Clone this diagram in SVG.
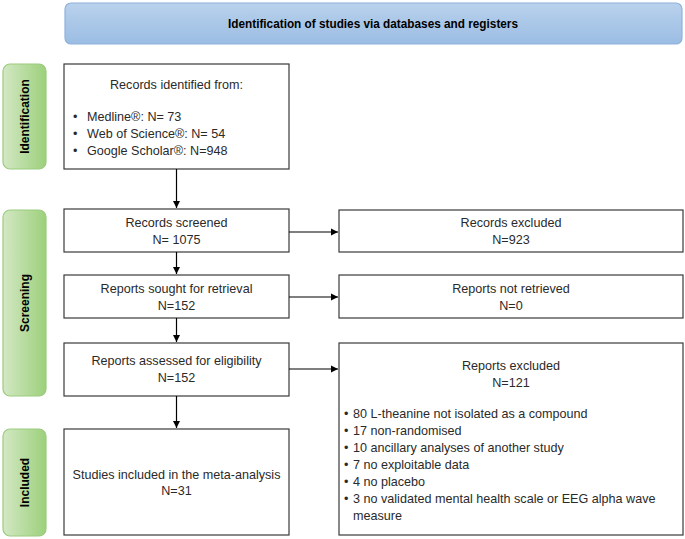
<svg xmlns="http://www.w3.org/2000/svg" width="685" height="539" viewBox="0 0 685 539">
<defs>
<linearGradient id="gBlue" x1="0" y1="0" x2="0" y2="1">
<stop offset="0" stop-color="#b9d1ec"/>
<stop offset="1" stop-color="#9bbde3"/>
</linearGradient>
<linearGradient id="gGreen" x1="0" y1="0" x2="1" y2="0">
<stop offset="0" stop-color="#d3e8c4"/>
<stop offset="1" stop-color="#9cd07b"/>
</linearGradient>
<marker id="arr" markerWidth="8" markerHeight="8" refX="7" refY="4" orient="auto" markerUnits="userSpaceOnUse">
<path d="M0,0.5 L7,4 L0,7.5 Z" fill="#000"/>
</marker>
</defs>
<style>
text{font-family:"Liberation Sans",Arial,sans-serif;font-size:12.6px;fill:#2a2a2a}
.box{fill:#fff;stroke:#3a3a3a;stroke-width:1.2}
.side{fill:url(#gGreen);stroke:#9ccb7e;stroke-width:1.2}
.sl{font-weight:bold;font-size:12px;fill:#000}
.c{text-anchor:middle}
.con{stroke:#000;stroke-width:1.2;fill:none;marker-end:url(#arr)}
</style>
<rect width="685" height="539" fill="#fff"/>
<g id="banner">
<rect x="65" y="3" width="617" height="41" rx="6" fill="url(#gBlue)" stroke="#8fb2dc" stroke-width="1.2"/>
<text x="373" y="28" class="c" style="font-weight:bold;font-size:12px;fill:#000" textLength="290" lengthAdjust="spacingAndGlyphs">Identification of studies via databases and registers</text>
</g>
<g id="side-identification">
<rect x="3" y="64" width="43" height="105" rx="7" class="side"/>
<text class="sl c" transform="translate(28.5,116.5) rotate(-90)">Identification</text>
</g>
<g id="side-screening">
<rect x="3" y="210" width="43" height="186" rx="7" class="side"/>
<text class="sl c" transform="translate(28.5,303) rotate(-90)">Screening</text>
</g>
<g id="side-included">
<rect x="3" y="429" width="43" height="107" rx="7" class="side"/>
<text class="sl c" transform="translate(28.5,482.5) rotate(-90)">Included</text>
</g>
<g id="identified">
<rect x="64" y="64" width="225" height="105" class="box"/>
<text x="176.5" y="89" class="c">Records identified from:</text>
<text x="73" y="121">•</text><text x="87" y="121">Medline®: N= 73</text>
<text x="73" y="138">•</text><text x="87" y="138">Web of Science®: N= 54</text>
<text x="73" y="155">•</text><text x="87" y="155">Google Scholar®: N=948</text>
</g>
<g id="screened">
<rect x="64" y="209" width="225" height="43" class="box"/>
<text x="176.5" y="227" class="c">Records screened</text>
<text x="176.5" y="244" class="c">N= 1075</text>
</g>
<g id="excluded1">
<rect x="339" y="210" width="344" height="42" class="box"/>
<text x="511" y="227" class="c">Records excluded</text>
<text x="511" y="244" class="c">N=923</text>
</g>
<g id="sought">
<rect x="64" y="275" width="225" height="43" class="box"/>
<text x="176.5" y="293" class="c">Reports sought for retrieval</text>
<text x="176.5" y="310" class="c">N=152</text>
</g>
<g id="notretrieved">
<rect x="339" y="275" width="344" height="43" class="box"/>
<text x="511" y="293" class="c">Reports not retrieved</text>
<text x="511" y="310" class="c">N=0</text>
</g>
<g id="assessed">
<rect x="64" y="343" width="225" height="53" class="box"/>
<text x="176.5" y="365" class="c">Reports assessed for eligibility</text>
<text x="176.5" y="382" class="c">N=152</text>
</g>
<g id="excluded2">
<rect x="339" y="343" width="344" height="192" class="box"/>
<text x="511" y="370" class="c">Reports excluded</text>
<text x="511" y="387" class="c">N=121</text>
<text x="344" y="418">•</text><text x="353" y="418">80 L-theanine not isolated as a compound</text>
<text x="344" y="435">•</text><text x="353" y="435">17 non-randomised</text>
<text x="344" y="452">•</text><text x="353" y="452">10 ancillary analyses of another study</text>
<text x="344" y="469">•</text><text x="353" y="469">7 no exploitable data</text>
<text x="344" y="486">•</text><text x="353" y="486">4 no placebo</text>
<text x="344" y="503">•</text><text x="353" y="503">3 no validated mental health scale or EEG alpha wave</text>
<text x="353" y="520">measure</text>
</g>
<g id="included">
<rect x="64" y="429" width="225" height="106" class="box"/>
<text x="176.5" y="479" class="c">Studies included in the meta-analysis</text>
<text x="176.5" y="495" class="c">N=31</text>
</g>
<g id="connectors">
<line x1="176.5" y1="169" x2="176.5" y2="208" class="con"/>
<line x1="176.5" y1="252" x2="176.5" y2="274" class="con"/>
<line x1="176.5" y1="318" x2="176.5" y2="342" class="con"/>
<line x1="176.5" y1="396" x2="176.5" y2="428" class="con"/>
<line x1="289" y1="232" x2="338" y2="232" class="con"/>
<line x1="289" y1="297" x2="338" y2="297" class="con"/>
<line x1="289" y1="369" x2="338" y2="369" class="con"/>
</g>
</svg>
